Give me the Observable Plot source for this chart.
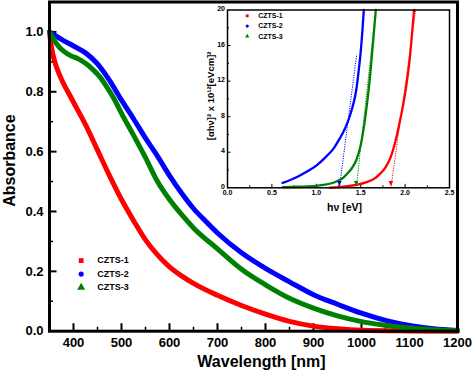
<!DOCTYPE html>
<html><head><meta charset="utf-8">
<script src="https://cdn.jsdelivr.net/npm/d3@7"></script>
<script src="https://cdn.jsdelivr.net/npm/@observablehq/plot@0.6"></script>
<style>
body{margin:0;background:#fff;}
#wrap{position:relative;width:474px;height:373px;background:#fff;}
</style></head><body><div id="wrap"></div>
<script>
// ---- data ----
const series = ["CZTS-1", "CZTS-2", "CZTS-3"];
const colors = ["#ff0000", "#0000ff", "#008000"];
const symbols = ["square", "circle", "triangle"];

// main plot: wavelength (nm) vs absorbance
const wlRed  = [350,353,357,362,370,380,390,400,425,450,475,500,525,550,575,600,625,650,700,750,800,850,900,950,1000,1100,1200];
const absRed = [1.0,0.96,0.925,0.895,0.86,0.825,0.795,0.765,0.69,0.605,0.52,0.44,0.37,0.305,0.255,0.215,0.185,0.16,0.12,0.086,0.057,0.033,0.017,0.008,0.003,0.001,0.0];
const wlBlue  = [350,375,400,425,450,475,500,525,550,575,600,625,650,675,700,750,800,850,900,950,1000,1050,1100,1150,1200];
const absBlue = [1.0,0.975,0.953,0.93,0.893,0.838,0.772,0.71,0.645,0.585,0.52,0.462,0.41,0.368,0.328,0.262,0.21,0.165,0.122,0.09,0.06,0.036,0.019,0.008,0.002];
const wlGreen  = [350,365,380,395,410,425,440,455,470,485,500,525,550,575,600,625,650,700,750,800,850,900,950,1000,1050,1100,1150,1200];
const absGreen = [1.0,0.96,0.935,0.92,0.91,0.895,0.875,0.85,0.815,0.775,0.728,0.655,0.58,0.5,0.44,0.39,0.345,0.275,0.207,0.155,0.11,0.077,0.051,0.032,0.02,0.011,0.005,0.002];

// inset: photon energy (eV) vs (alpha h nu)^2 x 1e12
const evRed  = [1.15,1.25,1.35,1.45,1.55,1.65,1.72,1.78,1.84,1.9,1.95,2.0,2.05,2.1];
const tRed   = [0.03,0.08,0.18,0.33,0.58,1.0,1.6,2.3,3.5,5.6,7.9,10.6,14.3,20];
const evBlue = [0.62,0.7,0.8,0.9,1.0,1.1,1.2,1.25,1.3,1.35,1.4,1.45,1.48,1.5,1.52,1.535];
const tBlue  = [0.55,0.85,1.3,1.85,2.5,3.4,4.5,5.3,6.2,7.3,8.8,11.0,13.4,15.3,17.8,20];
const evGreen = [0.62,0.8,0.9,1.0,1.1,1.2,1.25,1.3,1.35,1.4,1.45,1.5,1.55,1.6,1.64,1.67];
const tGreen  = [0.08,0.12,0.16,0.22,0.35,0.6,0.82,1.1,1.6,2.2,3.1,4.8,7.8,12.0,16.5,20];

// band-gap tangent lines (from x-intercept up to the curve)
const gapX  = [1.84, 1.26, 1.45];
const topX  = [2.12, 1.455, 1.665];
const topY  = [20, 15, 19.5];

// ticks
const xMajor = [400,500,600,700,800,900,1000,1100];
const xMinor = [350,450,550,650,750,850,950,1050,1150];
const xLabels = [400,500,600,700,800,900,1000,1100,1200];
const yMajor = [0.2,0.4,0.6,0.8,1.0];
const yMinor = [0.1,0.3,0.5,0.7,0.9];
const yLabels = [0,0.2,0.4,0.6,0.8,1.0];
const ixMajor = [0.5,1.0,1.5,2.0];
const ixMinor = [0.25,0.75,1.25,1.75,2.25];
const ixLabels = [0,0.5,1.0,1.5,2.0,2.5];
const iyMajor = [4,8,12,16];
const iyMinor = [2,6,10,14,18];
const iyLabels = [0,4,8,12,16,20];

// legend rows (main plot, in data units) and inset
const legX = 416, legY0 = 0.236, legStep = 0.045;
const ilegX = 0.222, ilegY0 = 19.34, ilegStep = 1.15;

const font = "'Liberation Sans', Arial, Helvetica, sans-serif";
const toRows = (xs, ys) => xs.map((x, i) => ({x, y: ys[i]}));
const mainRows = [toRows(wlRed, absRed), toRows(wlBlue, absBlue), toRows(wlGreen, absGreen)];
const insetRows = [toRows(evRed, tRed), toRows(evBlue, tBlue), toRows(evGreen, tGreen)];

// ---- main plot ----
const mL = 49, mR = 17, mT = 1.5, mB = 42.3, W = 474, H = 373;
const fW = W - mL - mR, fH = H - mT - mB;
const legendMarks = [];
series.forEach((s, i) => {
  const row = [{x: legX, y: legY0 - i * legStep, s}];
  legendMarks.push(Plot.dot(row, {x: "x", y: "y", fill: colors[i], symbol: symbols[i], r: i === 0 ? 2.7 : (i === 1 ? 2.6 : 3)}));
  legendMarks.push(Plot.text(row, {x: "x", y: "y", text: "s", dx: 16, textAnchor: "start", fontSize: 9, fontWeight: "bold", fill: "black"}));
});

const main = Plot.plot({
  width: W, height: H,
  marginLeft: mL, marginRight: mR, marginTop: mT, marginBottom: mB,
  style: {fontFamily: font, background: "white", overflow: "visible"},
  x: {domain: [350, 1200]},
  y: {domain: [0, 1.1]},
  marks: [
    Plot.tickX(xMinor, {x: d => d, insetTop: fH - 4, strokeWidth: 1.5}),
    Plot.tickX(xMajor, {x: d => d, insetTop: fH - 7.5, strokeWidth: 2}),
    Plot.tickY(yMinor, {y: d => d, insetRight: fW - 4, strokeWidth: 1.5}),
    Plot.tickY(yMajor, {y: d => d, insetRight: fW - 7.5, strokeWidth: 2}),
    Plot.axisX({ticks: xLabels, tickSize: 0, tickPadding: 7, tickFormat: d => String(d), fontSize: 13, fontWeight: "bold", label: null}),
    Plot.axisY({ticks: yLabels, tickSize: 0, tickPadding: 6, tickFormat: d3.format(".1f"), fontSize: 13, fontWeight: "bold", label: null}),
    Plot.line(mainRows[1], {x: "x", y: "y", stroke: colors[1], strokeWidth: 5, curve: "monotone-x"}),
    Plot.line(mainRows[0], {x: "x", y: "y", stroke: colors[0], strokeWidth: 5, curve: "monotone-x"}),
    Plot.line(mainRows[2], {x: "x", y: "y", stroke: colors[2], strokeWidth: 5, curve: "monotone-x"}),
    Plot.frame({stroke: "black", strokeWidth: 3}),
    ...legendMarks,
    Plot.text(["Wavelength [nm]"], {frameAnchor: "bottom", lineAnchor: "middle", dy: 31, dx: 8, fontSize: 16, fontWeight: "bold", fill: "black"}),
    Plot.text(["Absorbance"], {frameAnchor: "left", textAnchor: "middle", lineAnchor: "middle", rotate: -90, dx: -40, dy: -6, fontSize: 16, fontWeight: "bold", fill: "black"})
  ]
});

// ---- inset ----
const iW = 255, iH = 218, iL = 27, iR = 6, iT = 9.5, iB = 30.7;
const ifW = iW - iL - iR, ifH = iH - iT - iB;
const downTri = {draw(ctx, size) { const h = Math.sqrt(size) * 1.0, w = h * 0.42; ctx.moveTo(0, 0); ctx.lineTo(-w, -h); ctx.lineTo(w, -h); ctx.closePath(); }};
const insetMarks = [];
series.forEach((s, i) => {
  insetMarks.push(Plot.link([{x1: gapX[i], y1: 0, x2: topX[i], y2: topY[i]}], {x1: "x1", y1: "y1", x2: "x2", y2: "y2", stroke: colors[i], strokeWidth: 1, strokeDasharray: "1.2,1.2"}));
});
[1, 2, 0].forEach(i => {
  insetMarks.push(Plot.line(insetRows[i], {x: "x", y: "y", stroke: colors[i], strokeWidth: 2.3, curve: "monotone-x"}));
});
series.forEach((s, i) => {
  insetMarks.push(Plot.dot([{x: gapX[i], y: 0}], {x: "x", y: "y", fill: colors[i], symbol: downTri, r: 3, dy: -1.5}));
  const row = [{x: ilegX, y: ilegY0 - i * ilegStep, s}];
  insetMarks.push(Plot.dot(row, {x: "x", y: "y", fill: colors[i], symbol: symbols[i], r: 1.6}));
  insetMarks.push(Plot.text(row, {x: "x", y: "y", text: "s", dx: 11, textAnchor: "start", fontSize: 7, fontWeight: "bold", fill: "black"}));
});

const inset = Plot.plot({
  width: iW, height: iH,
  marginLeft: iL, marginRight: iR, marginTop: iT, marginBottom: iB,
  style: {fontFamily: font, background: "transparent", overflow: "visible"},
  x: {domain: [0, 2.5]},
  y: {domain: [0, 20]},
  marks: [
    Plot.frame({fill: "white", stroke: null}),
    Plot.tickX(ixMinor, {x: d => d, insetTop: ifH - 2, strokeWidth: 1}),
    Plot.tickX(ixMajor, {x: d => d, insetTop: ifH - 3.5, strokeWidth: 1}),
    Plot.tickY(iyMinor, {y: d => d, insetRight: ifW - 2, strokeWidth: 1}),
    Plot.tickY(iyMajor, {y: d => d, insetRight: ifW - 3.5, strokeWidth: 1}),
    Plot.axisX({ticks: ixLabels, tickSize: 0, tickPadding: 2.5, tickFormat: d3.format(".1f"), fontSize: 7, fontWeight: "bold", label: null}),
    Plot.axisY({ticks: iyLabels, tickSize: 0, tickPadding: 2.5, tickFormat: d => String(d), fontSize: 7, fontWeight: "bold", label: null, dy: -1}),
    ...insetMarks,
    Plot.frame({stroke: "black", strokeWidth: 1.5}),
    Plot.text(["hν [eV]"], {frameAnchor: "bottom", lineAnchor: "middle", dy: 19.5, dx: 6, fontSize: 10.5, fontWeight: "bold", fill: "black"}),
    Plot.text(["[αhν]² x 10¹²[eVcm]²"], {frameAnchor: "left", textAnchor: "middle", lineAnchor: "middle", rotate: -90, dx: -17, dy: -3, fontSize: 9.5, fontWeight: "bold", fill: "black"})
  ]
});
inset.style.position = "absolute";
inset.style.left = "200px";
inset.style.top = "0px";

const wrap = document.getElementById("wrap");
wrap.appendChild(main);
wrap.appendChild(inset);
</script>
</body></html>
